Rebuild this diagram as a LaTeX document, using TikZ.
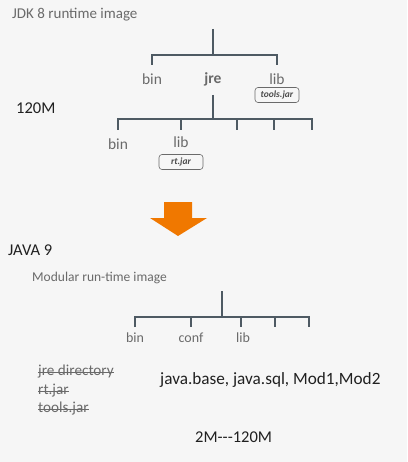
\documentclass[tikz,border=0pt]{standalone}
\usepackage{fontspec}
\setmainfont{Carlito}
\definecolor{bg}{HTML}{F6F6F6}
\definecolor{ln}{HTML}{4E5A63}
\definecolor{gtxt}{HTML}{6A6A6A}
\definecolor{dtxt}{HTML}{202020}
\definecolor{org}{HTML}{F07800}
\begin{document}
\begin{tikzpicture}[x=1pt,y=-1pt,
  tline/.style={ln,line width=1.6pt},
  lbl/.style={text=gtxt,font=\fontsize{15.5}{17}\selectfont,inner sep=0pt},
  slbl/.style={text=gtxt,font=\fontsize{14}{16}\selectfont,inner sep=0pt},
  jar/.style={draw=gtxt,rounded corners=3pt,line width=0.6pt,text=dtxt!80,font=\fontsize{9.5}{10}\selectfont\bfseries\itshape,minimum width=44pt,minimum height=15pt,inner sep=0pt},
  big/.style={text=dtxt,font=\fontsize{16.5}{19}\selectfont,inner sep=0pt,anchor=west},
  ttl/.style={text=gtxt,font=\fontsize{15}{18}\selectfont,inner sep=0pt,anchor=west},
  gone/.style={text=gtxt,font=\fontsize{15.2}{17}\selectfont,inner sep=0pt,anchor=west},
  strike/.style={gtxt,line width=0.7pt}]
\fill[bg] (0,0) rectangle (407,462);
\useasboundingbox (0,0) rectangle (407,462);
% title
\node[ttl] (t1) at (12,15) {JDK 8 runtime image};
\node[big] (m120) at (16,108) {120M};
% top tree
\coordinate (r1) at (213,29);
\coordinate (h1) at (213,55);
\draw[tline] (r1) -- (h1);
\draw[tline] (152,65) -- (152,55) -- (277,55) -- (277,65);
\node[lbl] (bin1) at (152,79) {bin};
\node[lbl,font=\fontsize{15.5}{17}\selectfont\bfseries] (jre) at (213,79) {jre};
\node[lbl] (lib1) at (277,79) {lib};
\node[jar] (tools) at (277,95) {tools.jar};
% jre subtree
\coordinate (r2) at (213,95);
\coordinate (h2) at (213,119);
\draw[tline] (r2) -- (h2);
\draw[tline] (118,130) -- (118,119) -- (312,119) -- (312,130);
\foreach \x in {181,237,274} \draw[tline] (\x,119) -- (\x,130);
\node[lbl] (bin2) at (118,144) {bin};
\node[lbl] (lib2) at (181,142) {lib};
\node[jar] (rt) at (181,162) {rt.jar};
% arrow
\fill[org] (164,202) -- (192,202) -- (192,218) -- (207,218) -- (178,236) -- (150,218) -- (164,218) -- cycle;
% java 9
\node[big] (j9) at (8,250) {JAVA 9};
\node[ttl,font=\fontsize{13.5}{16}\selectfont] (mod) at (32,278) {Modular run-time image};
\coordinate (r3) at (222,291);
\coordinate (h3) at (222,317);
\draw[tline] (r3) -- (h3);
\draw[tline] (135,327) -- (135,317) -- (309,317) -- (309,327);
\foreach \x in {191,241,275} \draw[tline] (\x,317) -- (\x,327);
\node[slbl] (bin3) at (135,338) {bin};
\node[slbl] (conf) at (191,338) {conf};
\node[slbl] (lib3) at (243,338) {lib};
% bottom texts
\node[gone] (g1) at (38,372) {jre directory};
\node[gone] (g2) at (38,391) {rt.jar};
\node[gone] (g3) at (38,409) {tools.jar};
\foreach \g in {g1,g2,g3} \draw[strike] ([yshift=-0.5pt]\g.west) -- ([yshift=-0.5pt]\g.east);
\node[big,font=\fontsize{17.2}{19}\selectfont] (mods) at (160,380) {java.base, java.sql, Mod1,Mod2};
\node[big] (size) at (195,437) {2M{-}{-}{-}120M};
\end{tikzpicture}
\end{document}
